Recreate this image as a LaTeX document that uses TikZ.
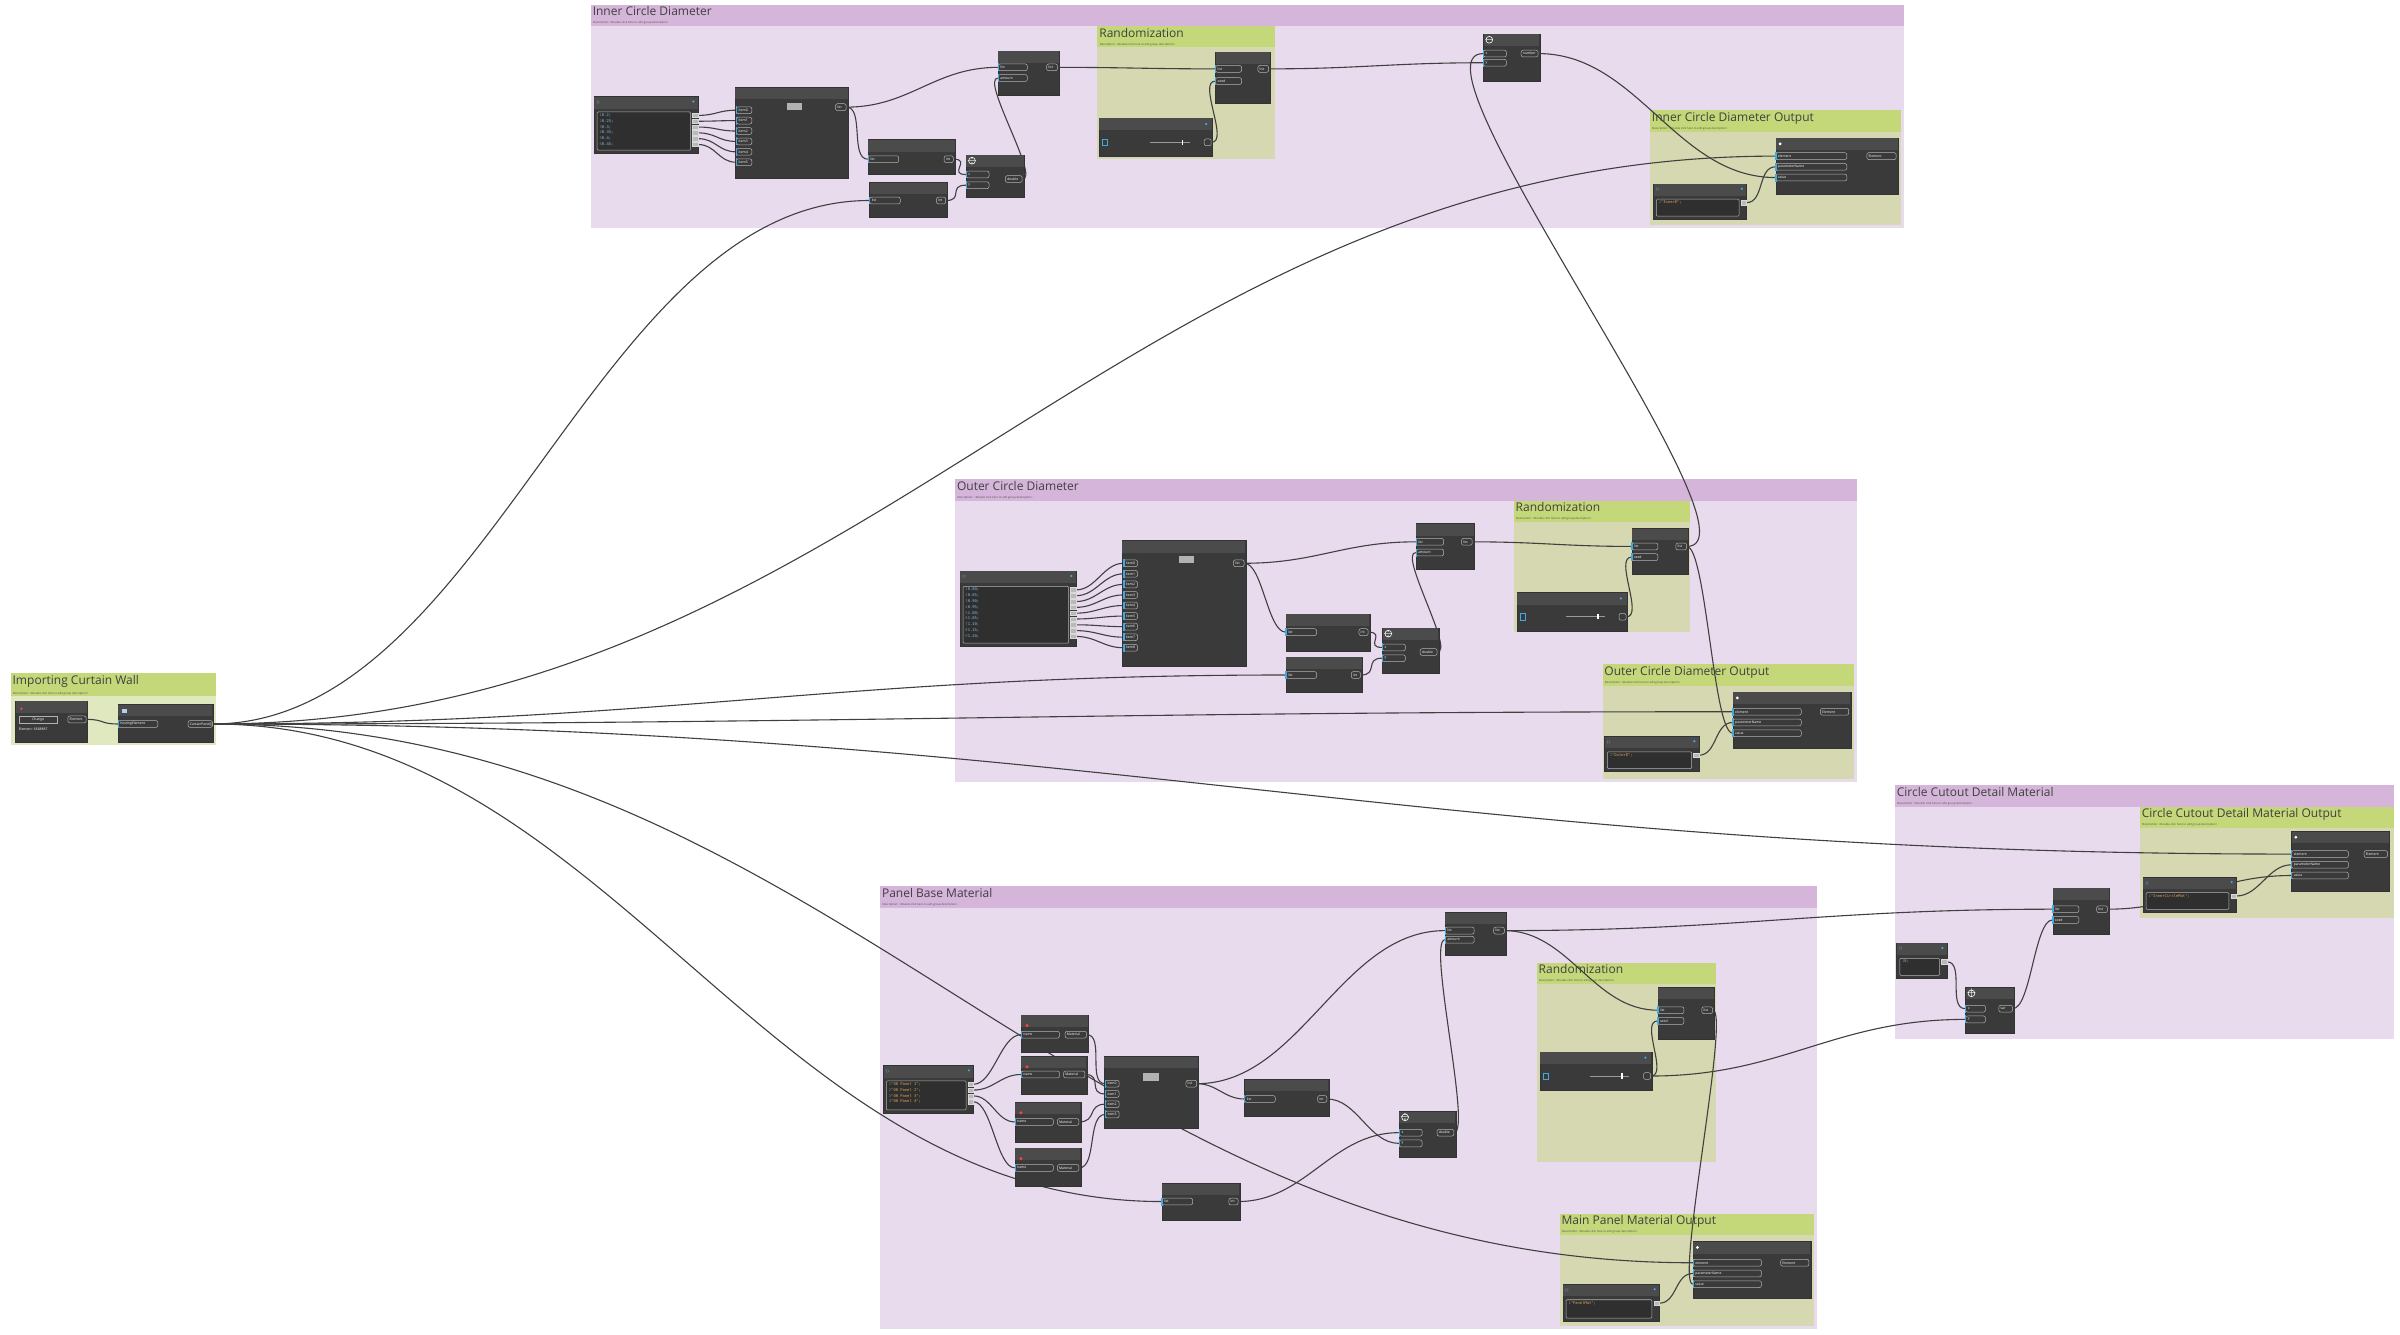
\documentclass[tikz,border=0pt]{standalone}
\usepackage{fontspec}
\setmainfont{Open Sans}
\setmonofont{DejaVu Sans Mono}
\usetikzlibrary{calc}
\pgfdeclarelayer{grp}\pgfdeclarelayer{wir}
\pgfsetlayers{grp,wir,main}
\definecolor{ph}{HTML}{D5B6DA}\definecolor{pb}{HTML}{E8DBEE}
\definecolor{gh}{HTML}{C4D87A}\definecolor{gb}{HTML}{D5D8B0}\definecolor{ib}{HTML}{DFE8BF}
\definecolor{nb}{HTML}{3A3A3A}\definecolor{nh}{HTML}{4B4B4B}\definecolor{bl}{HTML}{3FA9E0}
\definecolor{numc}{HTML}{86BDE6}\definecolor{strc}{HTML}{E0A45E}\definecolor{cba}{HTML}{2F2F2F}
\tikzset{
 nbody/.style={fill=nb,draw=black!80,line width=0.3pt,inner sep=0pt,rectangle},
 port/.style={draw=gray!60,fill=nb,rounded corners=1pt,minimum height=3.4pt,inner sep=0pt,line width=0.25pt},
 plbl/.style={font=\fontsize{1.7}{2}\selectfont,text=white!85,inner sep=0pt},
 gtitle/.style={font=\fontsize{6}{7}\selectfont,text=black!75,inner sep=0pt},
 gdesc/.style={font=\fontsize{1.4}{1.6}\selectfont,text=black!70,inner sep=0pt},
 cbo/.style={fill=gray!55,draw=gray!30,line width=0.2pt,minimum width=2.6pt,minimum height=2.2pt,inner sep=0pt},
 cbarea/.style={fill=cba,draw=gray!60,line width=0.25pt,inner sep=0pt,rounded corners=0.5pt},
 cbtext/.style={font=\ttfamily\fontsize{1.9}{2.9}\selectfont,align=left,inner sep=0pt},
 wire/.style={draw=black!75,line width=0.55pt},
}
\newcommand\dwire[2]{\draw[wire] let \p1=(#1.east), \p2=(#2.west), \n1={max(0.42*abs(\x2-\x1),9pt)} in (\p1) .. controls +(\n1,0) and +(-\n1,0) .. (\p2);}
\newcommand\grp[9]{%
 \begin{pgfonlayer}{grp}
 \fill[#7] (#2,#3) rectangle (#4,#5);
 \fill[#6] (#2,#3) rectangle (#4,{#3+#9});
 \end{pgfonlayer}
 \node[gtitle,anchor=north west] (#1) at ({#2+1},{#3+1}) {#8};
 \node[gdesc,anchor=north west] (#1-d) at ({#2+1.3},{#3+#9-3.2}) {Description: <Double click here to edit group description>};}
\newcommand\dn[5]{%
 \node[nbody,anchor=north west,minimum width={(#4-#2)*0.765pt},minimum height={(#5-#3)*0.765pt}] (#1) at (#2,#3) {};
 \fill[nh] ({#2+0.3},{#3+0.3}) rectangle ({#4-0.3},{#3+8});}
\newcommand\ip[5]{%
 \node[port,anchor=west,minimum width={#4*0.765pt}] (#1) at (#2,#3) {};
 \node[plbl,anchor=west] (#1-t) at ([xshift=1pt]#1.west) {#5};
 \fill[bl] ({#2-0.2},{#3-2.6}) rectangle ({#2+0.7},{#3+2.6});}
\newcommand\op[5]{%
 \node[port,anchor=east,minimum width={#4*0.765pt}] (#1) at (#2,#3) {};
 \node[plbl,anchor=west] (#1-t) at ([xshift=0.8pt]#1.west) {#5};}
\newcommand\cb[7]{%
 \dn{#1}{#2}{#3}{#4}{#5}
 \node[plbl,text=numc,anchor=west] (#1-h) at ({#2+1.5},{#3+4}) {\{\,\}};
 \fill[bl] ({#4-3},{#3+3.3}) circle (0.8);
 \node[cbarea,anchor=north west,minimum width={(#4-#2-7)*0.765pt},minimum height={(#5-#3-12)*0.765pt}] (#1-a) at ({#2+2},{#3+10}) {};
 \node[cbtext,anchor=north west] (#1-t) at ({#2+3.5},{#3+11}) {#7};
 \foreach \k in {0,...,#6} {\node[cbo,anchor=east] (#1-o\k) at (#4,{#3+12.4+3.8*\k}) {};}}
\newcommand\sld[5]{%
 \dn{#1}{#2}{#3}{#4}{#5}
 \draw[bl,line width=0.4pt] ({#2+2.5},{(#3+#5)/2+1.5}) rectangle ({#2+5.5},{(#3+#5)/2+5.5});
 \draw[gray!80,line width=0.5pt] ({#2+0.45*(#4-#2)},{(#3+#5)/2+3.5}) -- ({#2+0.8*(#4-#2)},{(#3+#5)/2+3.5});
 \fill[white] ({#2+0.73*(#4-#2)},{(#3+#5)/2+1.8}) rectangle ({#2+0.73*(#4-#2)+0.8},{(#3+#5)/2+5.2});
 \node[port,anchor=east,minimum width=3.5pt] (#1-o) at ({#4-0.5},{(#3+#5)/2+3.5}) {};
 \fill[bl] ({#4-4},{#3+4}) circle (0.8);}
\newcommand\spn[7]{%
 \dn{#1}{#2}{#3}{#4}{#5}
 \fill[white] ({#2+3},{#3+4}) circle (1);
 \ip{#1-e}{#2}{#6}{0.58*(#4-#2)}{element}
 \ip{#1-p}{#2}{#6+#7}{0.58*(#4-#2)}{parameterName}
 \ip{#1-v}{#2}{#6+2*#7}{0.58*(#4-#2)}{value}
 \op{#1-o}{#4-1}{#6}{0.24*(#4-#2)}{Element}}
\newcommand\mathicon[3]{\draw[white,line width=0.3pt] (#1,#2) circle (2.2); \node[plbl] at (#1,#2) {#3};}
\begin{document}
\begin{tikzpicture}[x=0.765pt,y=-0.765pt]
\begin{pgfonlayer}{grp}\fill[white] (0,0) rectangle (1568,871.6);\end{pgfonlayer}
\useasboundingbox (0,0) rectangle (1568,871.6);
% ===== Importing
\grp{gimp}{7}{440}{141}{487}{gh}{ib}{Importing Curtain Wall}{15}
\dn{ia}{10}{458}{57}{485}
\fill[red!70] (14,463) circle (0.8);
\node[draw=gray!60,fill=nb,minimum width=19pt,minimum height=3.6pt,inner sep=0pt,line width=0.25pt,plbl] (ia-b) at (25,470) {Change};
\node[plbl,anchor=west] (ia-txt) at (12,476.5) {Element: 6668887};
\op{ia-o}{56.5}{470}{12}{Element}
\dn{ib}{77}{460}{139}{485}
\fill[numc!70] (80,463) rectangle (83,466);
\ip{ib-i}{77}{473}{26}{hostingElement}
\op{ib-o}{139}{473}{16}{CurtainPanel[]}
% ===== Inner Circle Diameter
\grp{ginn}{386}{3}{1244}{149}{ph}{pb}{Inner Circle Diameter}{14}
\cb{ic}{388}{63}{456}{100}{5}{\textcolor{gray}{1}\textcolor{numc}{ 0.2;}\\\textcolor{gray}{2}\textcolor{numc}{ 0.25;}\\\textcolor{gray}{3}\textcolor{numc}{ 0.3;}\\\textcolor{gray}{4}\textcolor{numc}{ 0.35;}\\\textcolor{gray}{5}\textcolor{numc}{ 0.4;}\\\textcolor{gray}{6}\textcolor{numc}{ 0.45;}}
\dn{il}{480}{57}{554}{116}
\fill[gray!60] (514,67) rectangle (524,72);
\foreach \k in {0,...,5} {\ip{il-i\k}{481}{72+6.8*\k}{10}{item\k}}
\op{il-o}{553}{70}{7}{list}
\dn{it}{652}{33}{692}{62}
\ip{it-l}{652}{44}{19}{list}
\ip{it-a}{652}{51}{19}{amount}
\op{it-o}{691}{44}{7}{list}
\dn{ic1}{567}{91}{624}{114}
\ip{ic1-l}{567}{104}{20}{list}
\op{ic1-o}{623}{104}{6}{int}
\dn{ic2}{568}{119}{619}{142}
\ip{ic2-l}{568}{131}{20}{list}
\op{ic2-o}{618}{131}{6}{int}
\dn{id}{631}{101}{669}{129}
\mathicon{635}{105}{\(\div\)}
\ip{id-x}{631}{114}{15}{x}
\ip{id-y}{631}{121}{15}{y}
\op{id-o}{668}{117}{11}{double}
\grp{ginr}{717}{17}{833}{104}{gh}{gb}{Randomization}{14}
\dn{is}{794}{34}{830}{67}
\ip{is-l}{794}{45}{17}{list}
\ip{is-s}{794}{53}{17}{seed}
\op{is-o}{829}{45}{7}{list}
\sld{isl}{718}{77}{792}{102}
\dn{isub}{969}{22}{1006}{53}
\mathicon{973}{26}{\(-\)}
\ip{isub-x}{969}{35}{15}{x}
\ip{isub-y}{969}{41}{15}{y}
\op{isub-o}{1005}{35}{11}{number}
\grp{gino}{1078}{72}{1242}{147}{gh}{gb}{Inner Circle Diameter Output}{14}
\spn{isp}{1160}{90}{1240}{127}{102}{7}
\cb{icb}{1080}{120}{1141}{143}{0}{\textcolor{gray}{1}\textcolor{strc}{ "InnerD";}}
% ===== Outer
\grp{gout}{624}{313}{1213}{511}{ph}{pb}{Outer Circle Diameter}{14}
\cb{oc}{627}{373}{703}{422}{8}{\textcolor{gray}{1}\textcolor{numc}{ 0.80;}\\\textcolor{gray}{2}\textcolor{numc}{ 0.85;}\\\textcolor{gray}{3}\textcolor{numc}{ 0.90;}\\\textcolor{gray}{4}\textcolor{numc}{ 0.95;}\\\textcolor{gray}{5}\textcolor{numc}{ 1.00;}\\\textcolor{gray}{6}\textcolor{numc}{ 1.05;}\\\textcolor{gray}{7}\textcolor{numc}{ 1.10;}\\\textcolor{gray}{8}\textcolor{numc}{ 1.15;}\\\textcolor{gray}{9}\textcolor{numc}{ 1.20;}}
\dn{ol}{733}{353}{814}{435}
\fill[gray!60] (770,363) rectangle (780,368);
\foreach \k in {0,...,8} {\ip{ol-i\k}{734}{368+6.9*\k}{9}{item\k}}
\op{ol-o}{813}{368}{7}{list}
\dn{ot}{925}{342}{963}{372}
\ip{ot-l}{925}{354}{18}{list}
\ip{ot-a}{925}{361}{18}{amount}
\op{ot-o}{962}{354}{7}{list}
\dn{oc1}{840}{401}{895}{425}
\ip{oc1-l}{840}{413}{20}{list}
\op{oc1-o}{894}{413}{6}{int}
\dn{oc2}{840}{429}{890}{452}
\ip{oc2-l}{840}{441}{20}{list}
\op{oc2-o}{889}{441}{6}{int}
\dn{od}{903}{410}{940}{440}
\mathicon{907}{414}{\(\div\)}
\ip{od-x}{903}{423}{15}{x}
\ip{od-y}{903}{430}{15}{y}
\op{od-o}{939}{426}{11}{double}
\grp{gor}{989}{327}{1104}{413}{gh}{gb}{Randomization}{14}
\dn{os}{1066}{345}{1103}{375}
\ip{os-l}{1066}{357}{17}{list}
\ip{os-s}{1066}{364}{17}{seed}
\op{os-o}{1102}{357}{7}{list}
\sld{osl}{991}{387}{1063}{412}
\grp{goo}{1047}{434}{1211}{509}{gh}{gb}{Outer Circle Diameter Output}{14}
\spn{osp}{1132}{452}{1209}{489}{465}{7}
\cb{ocb}{1048}{481}{1110}{504}{0}{\textcolor{gray}{1}\textcolor{strc}{ "OuterD";}}
% ===== Panel Base Material
\grp{gpan}{575}{579}{1187}{868}{ph}{pb}{Panel Base Material}{14}
\cb{pc}{577}{696}{636}{727}{3}{\textcolor{gray}{1}\textcolor{strc}{ "00 Panel 1";}\\\textcolor{gray}{2}\textcolor{strc}{ "00 Panel 2";}\\\textcolor{gray}{3}\textcolor{strc}{ "00 Panel 3";}\\\textcolor{gray}{4}\textcolor{strc}{ "00 Panel 4";}}
\dn{m1}{667}{663}{711}{687}\fill[red!75] (671,670) circle (1.1);
\ip{m1-n}{667}{676}{25}{name}\op{m1-o}{710}{676}{14}{Material}
\dn{m2}{667}{690}{710}{715}\fill[red!75] (671,697) circle (1.1);
\ip{m2-n}{667}{702}{25}{name}\op{m2-o}{709}{702}{14}{Material}
\dn{m3}{663}{720}{706}{746}\fill[red!75] (667,727) circle (1.1);
\ip{m3-n}{663}{733}{25}{name}\op{m3-o}{705}{733}{14}{Material}
\dn{m4}{663}{750}{706}{775}\fill[red!75] (667,757) circle (1.1);
\ip{m4-n}{663}{763}{25}{name}\op{m4-o}{705}{763}{14}{Material}
\dn{pl}{721}{690}{783}{737}
\fill[gray!60] (747,701) rectangle (757,706);
\foreach \k in {0,...,3} {\ip{pl-i\k}{722}{708+6.7*\k}{9}{item\k}}
\op{pl-o}{782}{708}{7}{list}
\dn{pt}{944}{596}{984}{624}
\ip{pt-l}{944}{608}{19}{list}
\ip{pt-a}{944}{614}{19}{amount}
\op{pt-o}{983}{608}{7}{list}
\dn{pc1}{813}{705}{868}{729}
\ip{pc1-l}{813}{718}{20}{list}
\op{pc1-o}{867}{718}{6}{int}
\dn{pc2}{759}{773}{810}{797}
\ip{pc2-l}{759}{785}{20}{list}
\op{pc2-o}{809}{785}{6}{int}
\dn{pd}{914}{726}{951}{756}
\mathicon{918}{730}{\(\div\)}
\ip{pd-x}{914}{740}{15}{x}
\ip{pd-y}{914}{747}{15}{y}
\op{pd-o}{950}{740}{11}{double}
\grp{gpr}{1004}{629}{1121}{759}{gh}{gb}{Randomization}{14}
\dn{ps}{1083}{645}{1120}{679}
\ip{ps-l}{1083}{660}{17}{list}
\ip{ps-s}{1083}{667}{17}{seed}
\op{ps-o}{1119}{660}{7}{list}
\sld{psl}{1006}{687}{1079}{712}
\grp{gpo}{1019}{793}{1185}{866}{gh}{gb}{Main Panel Material Output}{14}
\spn{psp}{1106}{811}{1183}{848}{825}{7}
\cb{pcb}{1021}{839}{1084}{863}{0}{\textcolor{gray}{1}\textcolor{strc}{ "PanelMat";}}
% ===== Circle Cutout
\grp{gcir}{1238}{513}{1564}{679}{ph}{pb}{Circle Cutout Detail Material}{14}
\grp{gco}{1398}{527}{1564}{600}{gh}{gb}{Circle Cutout Detail Material Output}{14}
\spn{csp}{1497}{543}{1561}{582}{558}{7}
\cb{ccb}{1400}{573}{1461}{596}{0}{\textcolor{gray}{1}\textcolor{strc}{ "InnerCircleMat";}}
\dn{cs}{1341}{580}{1378}{610}
\ip{cs-l}{1341}{594}{17}{list}
\ip{cs-s}{1341}{601}{17}{seed}
\op{cs-o}{1377}{594}{7}{list}
\cb{c8}{1239}{616}{1272}{639}{0}{\textcolor{gray}{1}\textcolor{numc}{ 8;}}
\dn{ca}{1284}{645}{1316}{675}
\mathicon{1288}{649}{\(+\)}
\ip{ca-x}{1284}{659}{13}{x}
\ip{ca-y}{1284}{666}{13}{y}
\op{ca-o}{1315}{659}{9}{var}
% ===== wires
\begin{pgfonlayer}{wir}
\dwire{ia-o}{ib-i}
\foreach \t in {ic2-l,isp-e,oc2-l,osp-e,csp-e,pc2-l,psp-e} {\dwire{ib-o}{\t}}
\foreach \k in {0,...,5} {\dwire{ic-o\k}{il-i\k}}
\foreach \k in {0,...,8} {\dwire{oc-o\k}{ol-i\k}}
\foreach \k/\m in {0/m1,1/m2,2/m3,3/m4} {\dwire{pc-o\k}{\m-n}}
\foreach \m/\k in {m1/0,m2/1,m3/2,m4/3} {\dwire{\m-o}{pl-i\k}}
\foreach \a/\b in {il-o/it-l,il-o/ic1-l,ic1-o/id-x,ic2-o/id-y,id-o/it-a,it-o/is-l,isl-o/is-s,is-o/isub-y,os-o/isub-x,isub-o/isp-v,icb-o0/isp-p,
  ol-o/ot-l,ol-o/oc1-l,oc1-o/od-x,oc2-o/od-y,od-o/ot-a,ot-o/os-l,osl-o/os-s,os-o/osp-v,ocb-o0/osp-p,
  pl-o/pt-l,pl-o/pc1-l,pc1-o/pd-y,pc2-o/pd-x,pd-o/pt-a,pt-o/ps-l,psl-o/ps-s,ps-o/psp-v,pcb-o0/psp-p,pt-o/cs-l,psl-o/ca-y,
  c8-o0/ca-x,ca-o/cs-s,cs-o/csp-v,ccb-o0/csp-p}
  {\dwire{\a}{\b}}
\end{pgfonlayer}
\end{tikzpicture}
\end{document}
